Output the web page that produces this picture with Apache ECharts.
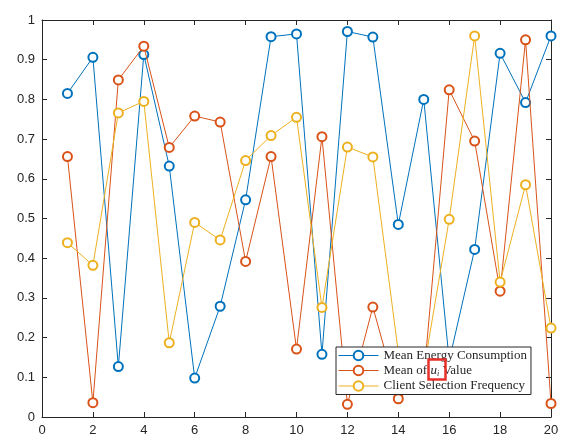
<!DOCTYPE html>
<html>
<head>
<meta charset="utf-8">
<script src="https://cdn.jsdelivr.net/npm/echarts@6/dist/echarts.min.js"></script>
<style>
  html, body { margin: 0; padding: 0; background: #fff; }
  #main { width: 575px; height: 447px; }
</style>
</head>
<body>
<div id="main"></div>
<script>
var xs = [1, 2, 3, 4, 5, 6, 7, 8, 9, 10, 11, 12, 13, 14, 15, 16, 17, 18, 19, 20];
var energy = [0.815, 0.906, 0.127, 0.913, 0.632, 0.098, 0.279, 0.547, 0.958, 0.965,
  0.158, 0.971, 0.957, 0.485, 0.800, 0.142, 0.422, 0.916, 0.792, 0.960];
var meanU = [0.656, 0.036, 0.849, 0.934, 0.679, 0.758, 0.743, 0.392, 0.656, 0.171,
  0.706, 0.032, 0.277, 0.046, 0.097, 0.824, 0.695, 0.317, 0.950, 0.034];
var selFreq = [0.439, 0.382, 0.766, 0.795, 0.187, 0.490, 0.446, 0.646, 0.709, 0.755,
  0.276, 0.680, 0.655, 0.163, 0.119, 0.498, 0.960, 0.340, 0.585, 0.224];
var seriesNames = ['Mean Energy Consumption', 'Mean of u_i Value', 'Client Selection Frequency'];
var colors = ['#0072BD', '#D95319', '#EDB120'];

function pairs(ys) {
  return xs.map(function (x, i) { return [x, ys[i]]; });
}

var myChart = echarts.init(document.getElementById('main'));

var axisCommon = {
  axisLine: { show: true, onZero: false, lineStyle: { color: '#262626', width: 1 } },
  axisTick: { show: true, inside: true, length: 5, lineStyle: { color: '#262626' } },
  splitLine: { show: false }
};

var option = {
  animation: false,
  backgroundColor: '#fff',
  color: colors,
  grid: { left: 42, right: 24, top: 20, bottom: 30 },
  xAxis: [
    Object.assign({
      type: 'value', min: 0, max: 20, interval: 2, position: 'bottom',
      axisLabel: { color: '#262626', fontSize: 13, fontFamily: 'Liberation Sans', margin: 7 }
    }, axisCommon),
    Object.assign({
      type: 'value', min: 0, max: 20, interval: 2, position: 'top',
      axisLabel: { show: false }
    }, axisCommon)
  ],
  yAxis: [
    Object.assign({
      type: 'value', min: 0, max: 1, interval: 0.1, position: 'left',
      axisLabel: {
        color: '#262626', fontSize: 13, fontFamily: 'Liberation Sans', margin: 7,
        formatter: function (v) { return String(Math.round(v * 10) / 10); }
      }
    }, axisCommon),
    Object.assign({
      type: 'value', min: 0, max: 1, interval: 0.1, position: 'right',
      axisLabel: { show: false }
    }, axisCommon)
  ],
  legend: {
    orient: 'vertical',
    left: 336,
    top: 347,
    z: 100,
    zlevel: 1,
    backgroundColor: '#ffffff',
    borderColor: '#262626',
    borderWidth: 1,
    borderRadius: 0,
    padding: [2, 4, 2, 2],
    itemGap: 2,
    itemWidth: 40,
    itemHeight: 12,
    itemStyle: { borderWidth: 1 },
    lineStyle: { width: 1 },
    data: seriesNames,
    formatter: function (name) {
      if (name === 'Mean of u_i Value') {
        return '{t|Mean of }{u|u}{s|i}{t| Value}';
      }
      return '{t|' + name + '}';
    },
    textStyle: {
      color: '#262626',
      fontFamily: 'Liberation Serif',
      fontSize: 13,
      rich: {
        t: { fontFamily: 'Liberation Serif', fontSize: 13, color: '#262626' },
        u: { fontFamily: 'Liberation Serif', fontStyle: 'italic', fontSize: 13, color: '#262626' },
        s: { fontFamily: 'Liberation Serif', fontStyle: 'italic', fontSize: 8, color: '#262626', padding: [6, 0, 0, 0] }
      }
    }
  },
  series: [energy, meanU, selFreq].map(function (ys, k) {
    return {
      name: seriesNames[k],
      type: 'line',
      data: pairs(ys),
      symbol: 'emptyCircle',
      symbolSize: 9,
      lineStyle: { width: 1, color: colors[k] },
      itemStyle: { color: colors[k], borderWidth: 0.9 },
      z: 2 + k
    };
  }),
  graphic: [{
    // opaque fill behind the legend so the lines do not show through
    type: 'rect',
    left: 336,
    top: 347,
    shape: { width: 195, height: 47 },
    style: { fill: '#ffffff', stroke: 'none' },
    zlevel: 1,
    z: 50
  }, {
    type: 'rect',
    left: 426,
    top: 357,
    shape: { width: 17, height: 20 },
    style: { fill: 'none', stroke: '#E8302A', lineWidth: 2.5 },
    zlevel: 2,
    z: 100
  }]
};

myChart.setOption(option);
</script>
</body>
</html>
